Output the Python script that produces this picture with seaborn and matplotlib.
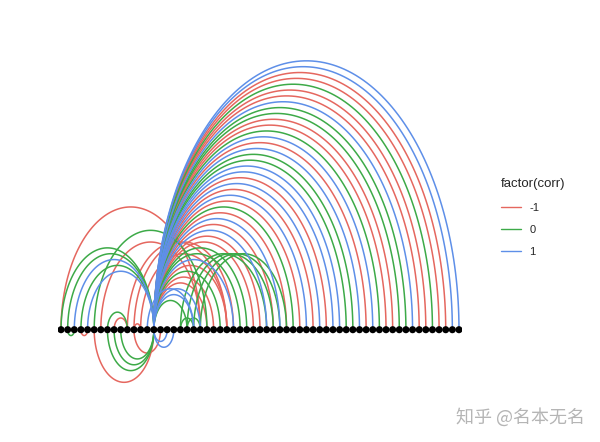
import numpy as np
import pandas as pd
import matplotlib
matplotlib.use("Agg")
import matplotlib.pyplot as plt
import seaborn as sns

# nodes laid out on a line (linear layout)
nodes = list(range(1, 62))
hub = 15

# fan of edges from the hub to the nodes on its right
fan_to = list(range(20, 62))
fan_corr = [0, 1, 1, -1, -1, 0, -1, 1, 0, 0,
            -1, -1, 1, -1, 1, -1, 0, -1, 1, -1,
            1, -1, 1, 1, 0, 0, 1, -1, 1, 0,
            -1, -1, 0, 0, 1, -1, -1, 0, -1, -1,
            1, 1]

# other edges (from > to are drawn under the line)
other_from = [1, 1, 2, 3, 4, 5, 6, 7, 11, 12, 13, 14,
              19, 20, 21, 22, 19, 20, 8, 9, 12,
              15, 15, 15, 15, 16, 18, 17, 3, 5]
other_to = [22, 15, 15, 15, 15, 15, 23, 22, 26, 27, 26, 21,
            32, 33, 34, 35, 21, 22, 11, 11, 13,
            6, 8, 9, 10, 12, 15, 15, 2, 4]
other_corr = [-1, 0, 0, 1, 0, 1, 0, -1, -1, -1, -1, 1,
              0, 0, 0, 0, 0, 0, 0, -1, -1,
              -1, 0, 0, 0, -1, 1, 1, 0, -1]

edge_from = [hub] * len(fan_to) + other_from
edge_to = fan_to + other_to
edge_corr = fan_corr + other_corr

# build arc paths (semicircles in data units)
rows = []
t = np.linspace(0, np.pi, 120)
for k, (a, b, c) in enumerate(zip(edge_from, edge_to, edge_corr)):
    mid = (a + b) / 2
    r = abs(b - a) / 2
    side = 1 if b > a else -1
    xs = mid - r * np.cos(t)
    ys = side * r * np.sin(t)
    rows.append(pd.DataFrame({"x": xs, "y": ys, "edge": k, "corr": str(c)}))
arcs = pd.concat(rows, ignore_index=True)
node_df = pd.DataFrame({"x": nodes, "y": 0.0})

sns.set_theme(style="white")
plt.rcParams["font.family"] = ["Liberation Sans", "DejaVu Sans"]

pal = {"-1": "#E5675F", "0": "#3DAA48", "1": "#5E8FE8"}

fig = plt.figure(figsize=(6, 4.42), dpi=100)
ax = fig.add_axes([0.0962, 0.1086, 0.6743, 0.767])
sns.lineplot(data=arcs, x="x", y="y", hue="corr", hue_order=["-1", "0", "1"],
             units="edge", estimator=None, sort=False, palette=pal,
             linewidth=1.1, ax=ax)
sns.scatterplot(data=node_df, x="x", y="y", color="black", s=26,
                edgecolor="none", zorder=5, ax=ax, legend=False)
ax.set_xlim(0.5, 61.5)
ax.set_ylim(-5.5, 23.5)
ax.set_axis_off()

sns.move_legend(ax, "center left", bbox_to_anchor=(1.07, 0.52),
                title="factor(corr)", frameon=False, fontsize=8,
                title_fontsize=9.5, handlelength=1.8, labelspacing=1.1)
leg = ax.get_legend()
leg._legend_box.align = "left"
for ln in leg.get_lines():
    ln.set_linewidth(1.0)

fig.text(0.975, 0.055, "知乎 @名本无名", ha="right", va="center",
         family=["Noto Sans CJK SC", "DejaVu Sans"], fontsize=13,
         color="#b5b5b5")

fig.savefig("out.png", dpi=100)
